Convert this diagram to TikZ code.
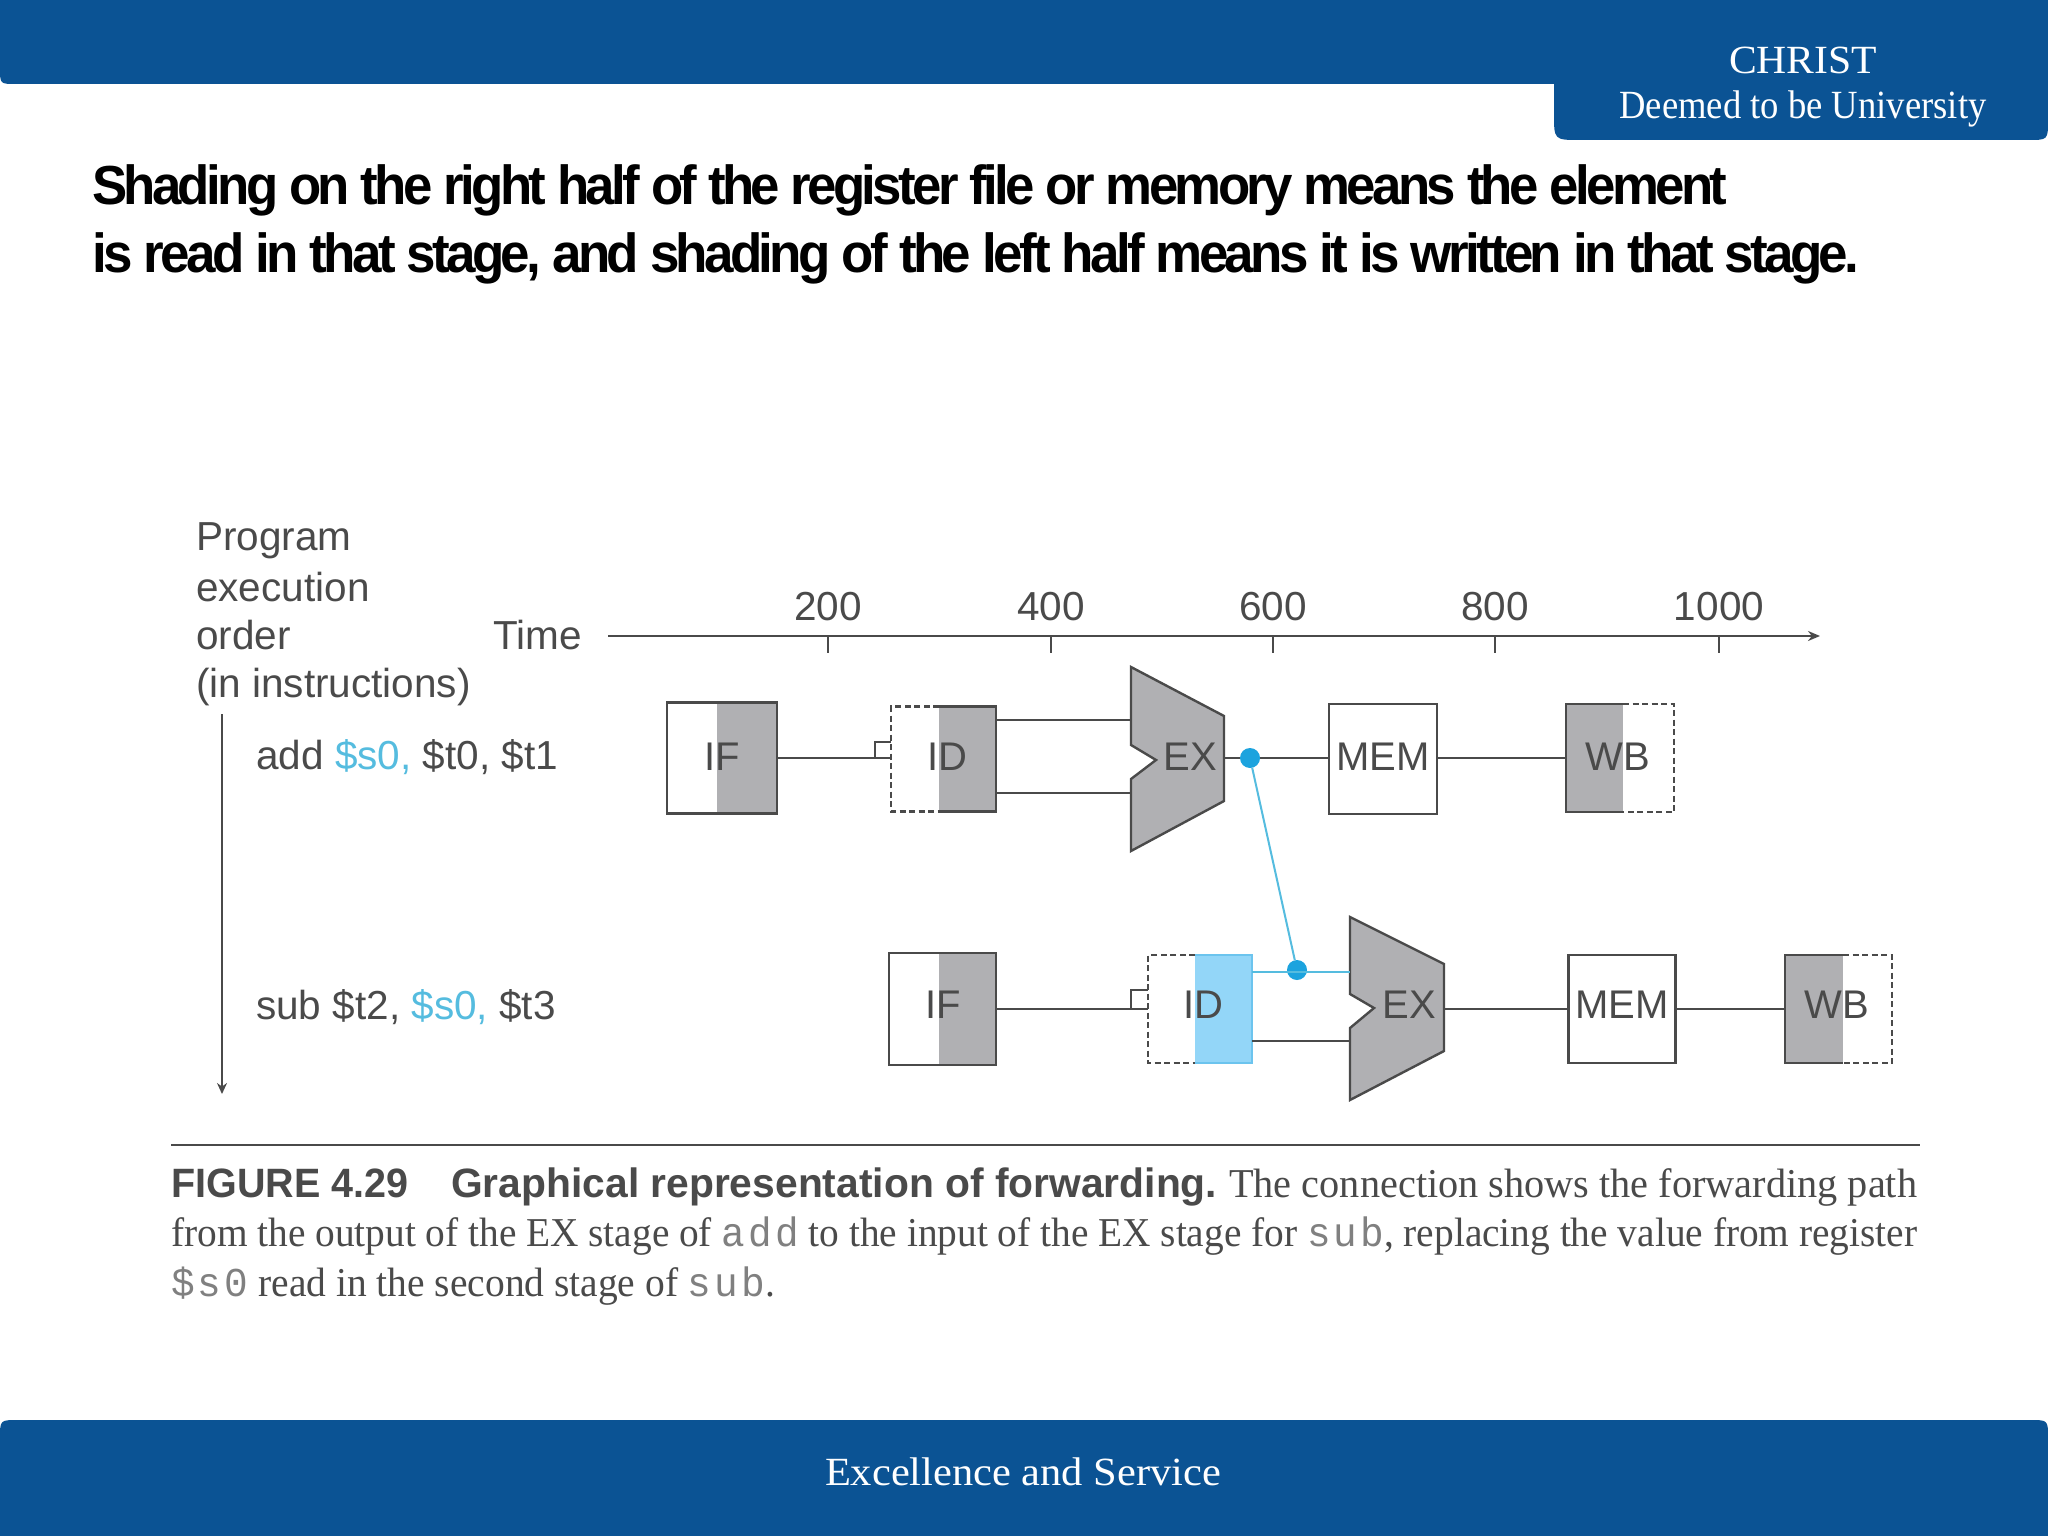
\documentclass[tikz,border=0pt]{standalone}
\usepackage{fontspec}
\setmainfont{Liberation Sans}
\setsansfont{Liberation Sans}
\newfontfamily\titlefont[LetterSpace=-7]{Liberation Sans}
\newfontfamily\capserif{Liberation Serif}
\newfontfamily\capmono[LetterSpace=8]{Liberation Mono}
\usetikzlibrary{arrows.meta}
\definecolor{barblue}{HTML}{0B5394}
\definecolor{inkgray}{HTML}{4A4A4A}
\definecolor{greyfill}{HTML}{B0B0B3}
\definecolor{paleblue}{HTML}{93D6F8}
\definecolor{dotblue}{HTML}{1CA3DE}
\definecolor{wireblue}{HTML}{55BCDF}
\definecolor{idedge}{HTML}{6CC4EE}
\newcommand\fitw[2]{\resizebox{#1}{\height}{#2}}
\newcommand\fsz[1]{\fontsize{#1}{#1}\selectfont}
\newcommand\ifbox[6]{%
  \fill[greyfill] (#6,#4-#5/2) rectangle (#3,#4+#5/2);
  \node[stagebox,minimum width=#3-#2,minimum height=#5,draw=inkgray] (#1) at ({(#2+#3)/2},#4) {};}
\newcommand\idbox[8]{%
  \fill[#7] (#6,#4-#5/2) rectangle (#3,#4+#5/2);
  \node[stagebox,minimum width=#3-#2,minimum height=#5] (#1) at ({(#2+#3)/2},#4) {};
  \draw[boxline,dash pattern=on 6pt off 3.5pt] (#6,#4-#5/2) -- (#2,#4-#5/2) -- (#2,#4+#5/2) -- (#6,#4+#5/2);
  \draw[boxline,draw=#8] (#6,#4-#5/2) -- (#3,#4-#5/2) -- (#3,#4+#5/2) -- (#6,#4+#5/2);}
\newcommand\wbbox[6]{%
  \fill[greyfill] (#2,#4-#5/2) rectangle (#6,#4+#5/2);
  \node[stagebox,minimum width=#3-#2,minimum height=#5] (#1) at ({(#2+#3)/2},#4) {};
  \draw[boxline] (#6,#4-#5/2) -- (#2,#4-#5/2) -- (#2,#4+#5/2) -- (#6,#4+#5/2);
  \draw[boxline,dash pattern=on 6pt off 3.5pt] (#6,#4-#5/2) -- (#3,#4-#5/2) -- (#3,#4+#5/2) -- (#6,#4+#5/2);}
\tikzset{
  stagebox/.style={inner sep=0pt,outer sep=0pt,rectangle,line width=2.6pt},
  boxline/.style={draw=inkgray,line width=2.6pt},
  wire/.style={draw=inkgray,line width=2.6pt},
  bluewire/.style={draw=wireblue,line width=2pt},
  alu/.style={fill=greyfill,draw=inkgray,line width=2.4pt,line join=miter},
  stagelabel/.style={inner sep=0pt,text=inkgray,font=\fsz{40}},
  plain/.style={inner sep=0pt,anchor=base west,text=inkgray,font=\fsz{40.5}},
  ticklabel/.style={inner sep=0pt,anchor=base,text=inkgray,font=\fsz{40.5}},
  tick/.style={draw=inkgray,line width=2.4pt},
  junction/.style={circle,fill=dotblue,inner sep=0pt,minimum size=20pt},
  head/.style={inner sep=0pt,text=white,anchor=base,font=\capserif\fsz{40}},
  titleline/.style={inner sep=0pt,anchor=base west,text=black,font=\titlefont\bfseries\fsz{55}},
  capline/.style={inner sep=0pt,anchor=base west,text=inkgray,font=\capserif\fsz{41}}
}
\begin{document}
\begin{tikzpicture}[x=1pt,y=-1pt]
\useasboundingbox (0,0) rectangle (2048,1536);
\fill[white] (0,0) rectangle (2048,1536);
% header and footer bands
\fill[barblue] (0,0) -- (2048,0) -- (2048,120) .. controls (2048,140) .. (2028,140) -- (1580,140)
  .. controls (1554,140) .. (1554,114) -- (1554,84) -- (16,84) .. controls (0,84) .. (0,68) -- cycle;
\fill[barblue] (0,1536) -- (0,1438) .. controls (0,1420) .. (18,1420) -- (2030,1420)
  .. controls (2048,1420) .. (2048,1438) -- (2048,1536) -- cycle;
\node[head] (brand) at (1803,74) {\fitw{148pt}{CHRIST}};
\node[head] (brandsub) at (1803,119) {\fitw{367pt}{Deemed to be University}};
\node[head] (motto) at (1023,1485) {\fitw{396pt}{Excellence and Service}};
% title
\node[titleline] (t1) at (92,204) {\fitw{1635pt}{Shading on the right half of the register file or memory means the element}};
\node[titleline] (t2) at (92,272) {\fitw{1767pt}{is read in that stage, and shading of the left half means it is written in that stage.}};
% left labels
\node[plain] (p1) at (196,550) {Program};
\node[plain] (p2) at (196,601) {execution};
\node[plain] (p3) at (196,649) {order};
\node[plain] (p4) at (196,697) {(in instructions)};
\node[plain] (timelab) at (493,649) {Time};
\node[plain] (i1) at (256,769) {add \textcolor{wireblue}{\$s0,} \$t0, \$t1};
\node[plain] (i2) at (256,1019) {sub \$t2, \textcolor{wireblue}{\$s0,} \$t3};
\coordinate (orderTop) at (222,714);
\coordinate (orderEnd) at (222,1094);
\draw[wire,line width=2.4pt,-{Stealth[length=11pt,width=10pt]}] (orderTop) -- (orderEnd);
% time axis
\coordinate (axisA) at (608,636);
\coordinate (axisB) at (1820,636);
\draw[tick,-{Stealth[length=12pt,width=10pt]}] (axisA) -- (axisB);
\foreach \xx/\lab in {828/200,1051/400,1273/600,1495/800,1719/1000}{
  \draw[tick] (\xx,636) -- (\xx,653);
  \node[ticklabel] (tl\lab) at (\xx,620) {\lab};
}
% row 1
\ifbox{ifa}{667}{777}{758}{111}{717}
\idbox{ida}{891}{996}{759}{105}{939}{greyfill}{inkgray}
\coordinate (exaA) at (1131,720);
\coordinate (exaB) at (1131,793);
\coordinate (exaO) at (1224,758);
\draw[alu] (1131,667) -- (1224,716) -- (1224,801) -- (1131,851) -- (1131,779) -- (1156,760) -- (1131,745) -- cycle;
\node[stagebox,draw=inkgray,minimum width=108pt,minimum height=110pt] (mema) at (1383,759) {};
\wbbox{wba}{1566}{1674}{758}{108}{1623}
\coordinate (stubA) at (875,758);
\coordinate (stubAtop) at (875,742);
\coordinate (stubAend) at (891,742);
\draw[wire] (ifa.east) -- (ida.west |- ifa.east);
\draw[wire,line width=2.4pt] (stubA) -- (stubAtop) -- (stubAend);
\draw[wire] (ida.east |- exaA) -- (exaA);
\draw[wire] (ida.east |- exaB) -- (exaB);
\draw[wire] (exaO) -- (mema.west |- exaO);
\draw[wire] (mema.east |- wba.west) -- (wba.west);
% row 2
\ifbox{ifb}{889}{996}{1009}{112}{939}
\idbox{idb}{1148}{1252}{1009}{108}{1195}{paleblue}{idedge}
\coordinate (exbA) at (1350,972);
\coordinate (exbB) at (1350,1041);
\coordinate (exbO) at (1444,1009);
\draw[alu] (1350,917) -- (1444,964) -- (1444,1051) -- (1350,1100) -- (1350,1028) -- (1374,1008) -- (1350,994) -- cycle;
\node[stagebox,draw=inkgray,minimum width=107pt,minimum height=108pt] (memb) at (1622,1009) {};
\wbbox{wbb}{1785}{1892}{1009}{108}{1843}
\coordinate (stubB) at (1131,1009);
\coordinate (stubBtop) at (1131,990);
\coordinate (stubBend) at (1148,990);
\draw[wire] (ifb.east) -- (idb.west);
\draw[wire,line width=2.4pt] (stubB) -- (stubBtop) -- (stubBend);
\draw[wire] (idb.east |- exbB) -- (exbB);
\draw[wire] (exbO) -- (memb.west);
\draw[wire] (memb.east) -- (wbb.west);
% forwarding
\node[junction] (fwA) at (1250,758) {};
\node[junction] (fwB) at (1297,970) {};
\draw[bluewire] (fwA) -- (fwB);
\draw[bluewire] (idb.east |- exbA) -- (exbA);
% stage labels
\node[stagelabel] (lifa) at (722,757) {IF};
\node[stagelabel] (lida) at (947,757) {ID};
\node[stagelabel] (lexa) at (1190,757) {EX};
\node[stagelabel] (lmema) at (1383,757) {MEM};
\node[stagelabel] (lwba) at (1618,757) {WB};
\node[stagelabel] (lifb) at (943,1005) {IF};
\node[stagelabel] (lidb) at (1203,1005) {ID};
\node[stagelabel] (lexb) at (1409,1005) {EX};
\node[stagelabel] (lmemb) at (1622,1005) {MEM};
\node[stagelabel] (lwbb) at (1837,1005) {WB};
% caption
\coordinate (ruleA) at (171,1145);
\coordinate (ruleB) at (1920,1145);
\draw[draw=inkgray,line width=2.4pt] (ruleA) -- (ruleB);
\node[capline] (c1a) at (171,1197) {\fitw{237pt}{\sffamily\bfseries FIGURE 4.29}};
\node[capline] (c1b) at (451,1197) {\fitw{766pt}{\sffamily\bfseries Graphical representation of forwarding.}};
\node[capline] (c1c) at (1229,1197) {\fitw{688pt}{The connection shows the forwarding path}};
\node[capline] (c2) at (171,1246) {\fitw{1746pt}{from the output of the EX stage of {\capmono\color{gray}add} to the input of the EX stage for {\capmono\color{gray}sub}, replacing the value from register}};
\node[capline] (c3) at (171,1296) {\fitw{604pt}{{\capmono\color{gray}\$s0} read in the second stage of {\capmono\color{gray}sub}.}};
\end{tikzpicture}
\end{document}
